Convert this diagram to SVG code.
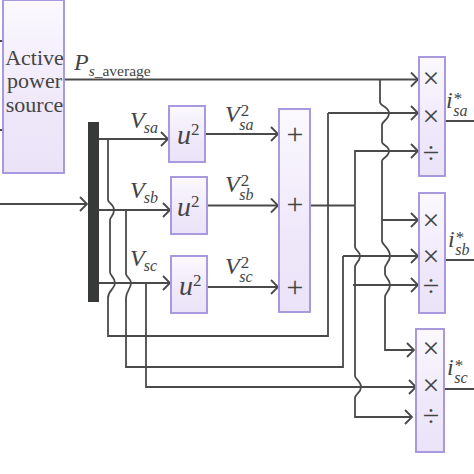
<svg xmlns="http://www.w3.org/2000/svg" width="474" height="474" viewBox="0 0 474 474">
<style>
.b{stroke:#a595de;stroke-width:1.9}
.c{fill:none;stroke:#4a4a4a;stroke-width:1.8}
.a{marker-end:url(#arr)}
text{font-family:"Liberation Serif","Times New Roman",serif;fill:#444}
.i{font-style:italic}
.v{font-size:24px}
.s{font-size:16px}
.o{font-size:30px;text-anchor:middle}
.t{font-size:22px;text-anchor:middle}
.u{font-size:28px;font-style:italic}
.p{font-size:17px;font-style:normal}
</style>
<defs>
<linearGradient id="g1" x1="0" y1="0" x2="0" y2="1"><stop offset="0" stop-color="#fbf9fe"/><stop offset="0.6" stop-color="#efe8fa"/><stop offset="1" stop-color="#ebe3f8"/></linearGradient>
<marker id="arr" viewBox="0 0 10 16" refX="9" refY="8" markerWidth="10" markerHeight="16" markerUnits="userSpaceOnUse" orient="auto"><path d="M2 1L9 8L2 15" fill="none" stroke="#4a4a4a" stroke-width="1.9"/></marker>
</defs>
<rect width="474" height="474" fill="#fff"/>
<g id="connectors" class="c">
<path d="M0 41H3M0 130H3"/>
<path class="a" d="M64 79.500H418"/>
<path class="a" d="M0 204H87"/>
<path class="a" d="M99 139H168"/>
<path class="a" d="M99 210H170"/>
<path class="a" d="M99 283H170"/>
<path class="a" d="M205 134H278"/>
<path class="a" d="M207 205.500H278"/>
<path class="a" d="M207 287H278"/>
<path d="M310 205.500H355"/>
<path d="M108 139V200C108 203 114 204 114 210C114 216 110 217 110 220V272C110 276 115 277 115 283C115 289 108 290 108 298V336H328V113"/>
<path class="a" d="M328 113H418"/>
<path d="M126 210V274C126 277 131 278 131 283C131 289 126 291 126 298V367H343V256"/>
<path class="a" d="M343 256H418"/>
<path class="a" d="M146 283V387H416"/>
<path class="a" d="M355 205.500V151H418"/>
<path class="a" d="M353 285H418"/>
<path class="a" d="M355 205.500V247C355 250 360 251 360 256C360 262 355 263 355 267V376C355 379 361 381 361 387C361 393 355 394 355 398V417H412"/>
<path d="M380 79.500V102C380 106 389 107 389 113C389 120 382 121 382 125V142C382 145 389 146 389 151C389 157 382 158 382 161V220"/>
<path class="a" d="M382 220H418"/>
<path class="a" d="M382 220V241C382 245 390 248 390 256C390 262 385 264 385 268V274C385 277 390 279 390 285C390 291 385 293 385 297V350H414"/>
<path d="M444 121H474M444 260H474M444 389H474"/>
</g>
<g id="active-power-source">
<rect class="b" x="3" y="0" width="61" height="173" fill="url(#g1)"/>
<text class="t" x="34.500" y="65">Active</text>
<text class="t" x="34.500" y="88">power</text>
<text class="t" x="34.500" y="112">source</text>
</g>
<g id="bus"><rect x="88" y="122" width="11" height="180" fill="#383a3a"/></g>
<g id="square-a"><rect class="b" x="169" y="106" width="36" height="56" fill="url(#g1)"/>
<text class="u" x="177" y="144">u<tspan class="p" dy="-9">2</tspan></text></g>
<g id="square-b"><rect class="b" x="171" y="177" width="36" height="57" fill="url(#g1)"/>
<text class="u" x="177" y="216">u<tspan class="p" dy="-9">2</tspan></text></g>
<g id="square-c"><rect class="b" x="171" y="256" width="36" height="57" fill="url(#g1)"/>
<text class="u" x="179" y="295">u<tspan class="p" dy="-9">2</tspan></text></g>
<g id="sum"><rect class="b" x="279" y="109" width="31" height="203" fill="url(#g1)"/>
<text class="o" x="295" y="144">+</text><text class="o" x="295" y="214">+</text><text class="o" x="295" y="297">+</text></g>
<g id="calc-a"><rect class="b" x="419" y="57" width="26" height="119" fill="url(#g1)"/>
<text class="o" x="431" y="88">×</text><text class="o" x="431" y="126">×</text><text class="o" x="431" y="163">÷</text></g>
<g id="calc-b"><rect class="b" x="419" y="193" width="26" height="120" fill="url(#g1)"/>
<text class="o" x="431" y="230">×</text><text class="o" x="431" y="266">×</text><text class="o" x="431" y="296">÷</text></g>
<g id="calc-c"><rect class="b" x="416" y="329" width="28" height="123" fill="url(#g1)"/>
<text class="o" x="431" y="358">×</text><text class="o" x="431" y="395">×</text><text class="o" x="431" y="426">÷</text></g>
<g id="labels">
<text class="i" x="74" y="70" font-size="24">P<tspan font-size="15.500" dy="6">s</tspan><tspan font-size="15.500" font-style="normal">_average</tspan></text>
<text class="i v" x="130" y="128">V<tspan class="s" dx="-1" dy="5">sa</tspan></text>
<text class="i v" x="130" y="198">V<tspan class="s" dx="-1" dy="5">sb</tspan></text>
<text class="i v" x="130" y="266">V<tspan class="s" dx="-1" dy="5">sc</tspan></text>
<text class="i v" x="225" y="122">V<tspan class="p" dx="1" dy="-6">2</tspan><tspan class="s" dx="-10" dy="14">sa</tspan></text>
<text class="i v" x="225" y="192">V<tspan class="p" dx="1" dy="-6">2</tspan><tspan class="s" dx="-10" dy="14">sb</tspan></text>
<text class="i v" x="225" y="274">V<tspan class="p" dx="1" dy="-6">2</tspan><tspan class="s" dx="-10" dy="14">sc</tspan></text>
<text class="i" x="446" y="108" font-size="24">i<tspan class="p" dx="1" dy="-4">*</tspan><tspan class="s" dx="-9" dy="12">sa</tspan></text>
<text class="i" x="448" y="247" font-size="24">i<tspan class="p" dx="1" dy="-4">*</tspan><tspan class="s" dx="-9" dy="12">sb</tspan></text>
<text class="i" x="447" y="375" font-size="24">i<tspan class="p" dx="1" dy="-4">*</tspan><tspan class="s" dx="-9" dy="12">sc</tspan></text>
</g>
</svg>
